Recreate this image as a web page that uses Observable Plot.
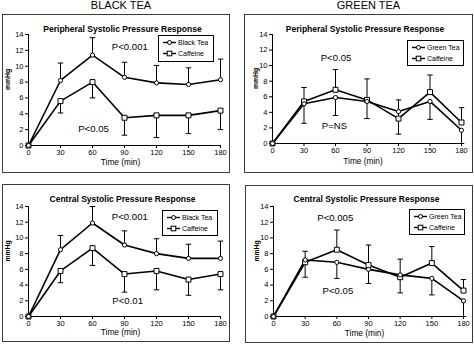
<!DOCTYPE html>
<html><head><meta charset="utf-8">
<script src="https://cdn.jsdelivr.net/npm/d3@7"></script>
<script src="https://cdn.jsdelivr.net/npm/@observablehq/plot@0.6"></script>
<style>
body{margin:0;background:#fff;font-family:"Liberation Sans",Arial,sans-serif;color:#000;}
#root{position:relative;width:474px;height:345px;overflow:hidden;background:#fff;}
.hdr{position:absolute;top:0px;font-size:11px;line-height:11px;white-space:nowrap;transform:translateX(-50%);}
.panel{position:absolute;}
.panel svg{position:absolute;left:0;top:0;}
.box{position:absolute;left:0;top:0;right:0;bottom:0;border:1px solid #3a3a3a;pointer-events:none;}
.legend{position:absolute;border:1px solid #000;background:#fff;box-sizing:border-box;}
.lrow{position:absolute;left:3px;height:11px;line-height:11px;font-size:7px;white-space:nowrap;display:flex;align-items:center;}
.lrow svg{position:static;margin-right:1px;}
</style></head>
<body><div id="root"></div>
<script>
const times = [0, 30, 60, 90, 120, 150, 180];
const yTicks = [0, 2, 4, 6, 8, 10, 12, 14];
const headers = ["BLACK TEA", "GREEN TEA"];
const titles = ["Peripheral Systolic Pressure Response", "Central Systolic Pressure Response"];
const seriesNames = [["Black Tea", "Caffeine"], ["Green Tea", "Caffeine"]];

// Peripheral, black tea study
const periphBlackTea = [0, 8.2, 11.4, 8.6, 7.9, 7.7, 8.3];
const periphBlackTeaErr = [0, 2.2, 2.2, 1.9, 2.2, 2.1, 2.6];
const periphBlackCaf = [0, 5.6, 8.0, 3.5, 3.8, 3.8, 4.4];
const periphBlackCafErr = [0, 1.5, 2.0, 2.2, 2.8, 2.3, 2.4];
// Peripheral, green tea study
const periphGreenTea = [0, 5.1, 5.9, 5.4, 4.1, 5.4, 1.7];
const periphGreenTeaErr = [0, 2.5, 2.3, 2.2, 2.9, 2.3, 1.7];
const periphGreenCaf = [0, 5.4, 6.9, 5.6, 3.2, 6.6, 2.7];
const periphGreenCafErr = [0, 1.8, 2.6, 2.7, 2.4, 2.2, 1.9];
// Central, black tea study
const centralBlackTea = [0, 8.5, 11.9, 9.1, 8.0, 7.4, 7.4];
const centralBlackTeaErr = [0, 1.8, 2.1, 1.8, 1.9, 1.8, 2.2];
const centralBlackCaf = [0, 5.8, 8.7, 5.4, 5.8, 4.7, 5.4];
const centralBlackCafErr = [0, 1.5, 2.2, 2.3, 2.4, 2.0, 2.0];
// Central, green tea study
const centralGreenTea = [0, 7.2, 6.9, 6.0, 5.3, 4.85, 2.0];
const centralGreenTeaErr = [0, 2.2, 2.05, 1.8, 2.3, 2.1, 2.0];
const centralGreenCaf = [0, 6.9, 8.5, 6.55, 5.0, 6.8, 3.3];
const centralGreenCafErr = [0, 1.4, 2.5, 2.55, 2.3, 2.1, 1.4];

// P-value annotations (data coordinates)
const pPeriphBlack = [{text: "P<0.001", x: 95, y: 12.4}, {text: "P<0.05", x: 61, y: 2.1}];
const pPeriphGreen = [{text: "P<0.05", x: 60.5, y: 11.05}, {text: "P=NS", x: 59, y: 2.3}];
const pCentralBlack = [{text: "P<0.001", x: 95, y: 12.7}, {text: "P<0.01", x: 93, y: 2.0}];
const pCentralGreen = [{text: "P<0.005", x: 58.5, y: 12.6}, {text: "P<0.05", x: 61, y: 3.2}];

const root = document.getElementById("root");
const FONT = "'Liberation Sans', Arial, sans-serif";

function header(text, cx) {
  const d = document.createElement("div");
  d.className = "hdr"; d.textContent = text; d.style.left = cx + "px";
  root.appendChild(d);
}
header(headers[0], 121);
header(headers[1], 368.5);

function swatch(kind) {
  const ns = "http://www.w3.org/2000/svg";
  const s = document.createElementNS(ns, "svg");
  s.setAttribute("width", 15); s.setAttribute("height", 9);
  const l = document.createElementNS(ns, "line");
  l.setAttribute("x1", 1); l.setAttribute("x2", 14); l.setAttribute("y1", 4.5); l.setAttribute("y2", 4.5);
  l.setAttribute("stroke", "#000"); l.setAttribute("stroke-width", 1.4);
  s.appendChild(l);
  let m;
  if (kind === 0) {
    m = document.createElementNS(ns, "circle");
    m.setAttribute("cx", 7.5); m.setAttribute("cy", 4.5); m.setAttribute("r", 2);
  } else {
    m = document.createElementNS(ns, "rect");
    m.setAttribute("x", 5.2); m.setAttribute("y", 2.2); m.setAttribute("width", 4.6); m.setAttribute("height", 4.6);
  }
  m.setAttribute("fill", "#fff"); m.setAttribute("stroke", "#000"); m.setAttribute("stroke-width", 1);
  s.appendChild(m);
  return s;
}

function legend(names, left, top, w, h) {
  const d = document.createElement("div");
  d.className = "legend";
  Object.assign(d.style, {left: left + "px", top: top + "px", width: w + "px", height: h + "px"});
  names.forEach((n, i) => {
    const r = document.createElement("div");
    r.className = "lrow";
    r.style.top = (1 + i * 11) + "px";
    r.appendChild(swatch(i));
    const sp = document.createElement("span"); sp.textContent = n;
    r.appendChild(sp);
    d.appendChild(r);
  });
  root.appendChild(d);
}

function panel(cfg) {
  const rows = times.map((t, i) => ({
    t, a: cfg.a[i], ae: cfg.ae[i], b: cfg.b[i], be: cfg.be[i]
  }));
  const errRows = rows.filter(r => r.t > 0);
  const aEnd = d => d.a + cfg.aDir * d.ae;
  const bEnd = d => d.b + cfg.bDir * d.be;
  const cap = 2.6;
  const plot = Plot.plot({
    width: cfg.W, height: cfg.H,
    marginLeft: cfg.mL, marginRight: cfg.mR, marginTop: cfg.mT, marginBottom: cfg.mB,
    x: {domain: [0, 180], axis: null},
    y: {domain: [0, 14], axis: null},
    style: {background: "transparent", fontFamily: FONT, color: "#000", overflow: "visible"},
    marks: [
      Plot.axisX({ticks: times, tickSize: 3, tickPadding: 1.5, fontSize: 7.5, label: null, tickFormat: d => String(d)}),
      Plot.axisY({ticks: yTicks, tickSize: 3, tickPadding: 2, fontSize: 7.5, label: null, tickFormat: d => String(d)}),
      Plot.ruleY([0], {stroke: "#000", strokeWidth: 1}),
      Plot.ruleX([0], {stroke: "#000", strokeWidth: 1}),
      Plot.link(errRows, {x1: "t", x2: "t", y1: "a", y2: aEnd, stroke: "#000", strokeWidth: 1}),
      Plot.link(errRows, {x1: d => d.t - cap, x2: d => d.t + cap, y1: aEnd, y2: aEnd, stroke: "#000", strokeWidth: 1}),
      Plot.link(errRows, {x1: "t", x2: "t", y1: "b", y2: bEnd, stroke: "#000", strokeWidth: 1}),
      Plot.link(errRows, {x1: d => d.t - cap, x2: d => d.t + cap, y1: bEnd, y2: bEnd, stroke: "#000", strokeWidth: 1}),
      Plot.line(rows, {x: "t", y: "b", stroke: "#000", strokeWidth: 1.6}),
      Plot.line(rows, {x: "t", y: "a", stroke: "#000", strokeWidth: 1.6}),
      Plot.dot(rows, {x: "t", y: "b", symbol: "square", r: 2.8, fill: "#fff", stroke: "#000", strokeWidth: 1}),
      Plot.dot(rows, {x: "t", y: "a", symbol: "circle", r: 2.1, fill: "#fff", stroke: "#000", strokeWidth: 1}),
      Plot.text([cfg.title], {frameAnchor: "top", dy: cfg.titleDy, dx: -2, fontWeight: "bold", fontSize: 8.5}),
      Plot.text(["mmHg"], {frameAnchor: "left", rotate: -90, dx: cfg.ylabDx, fontWeight: "bold", fontSize: 6.8}),
      Plot.text(["Time (min)"], {frameAnchor: "bottom", dy: cfg.xlabDy, dx: -4, fontSize: 8.3}),
      Plot.text(cfg.p, {x: "x", y: "y", text: "text", fontSize: 9.6})
    ]
  });
  const wrap = document.createElement("div");
  wrap.className = "panel";
  Object.assign(wrap.style, {left: cfg.left + "px", top: cfg.top + "px", width: cfg.W + "px", height: cfg.H + "px"});
  wrap.appendChild(plot);
  const box = document.createElement("div"); box.className = "box";
  wrap.appendChild(box);
  root.appendChild(wrap);
}

panel({left: 2, top: 14, W: 228, H: 159, mL: 26, mR: 10, mT: 20, mB: 28,
  a: periphBlackTea, ae: periphBlackTeaErr, aDir: 1, b: periphBlackCaf, be: periphBlackCafErr, bDir: -1,
  title: titles[0], titleDy: -9, ylabDx: -21, xlabDy: 19, p: pPeriphBlack});
panel({left: 244, top: 14, W: 229, H: 159, mL: 28, mR: 12, mT: 20, mB: 30,
  a: periphGreenTea, ae: periphGreenTeaErr, aDir: -1, b: periphGreenCaf, be: periphGreenCafErr, bDir: 1,
  title: titles[0], titleDy: -9, ylabDx: -17, xlabDy: 20.5, p: pPeriphGreen});
panel({left: 2, top: 184, W: 228, H: 158, mL: 26, mR: 10, mT: 22, mB: 26,
  a: centralBlackTea, ae: centralBlackTeaErr, aDir: 1, b: centralBlackCaf, be: centralBlackCafErr, bDir: -1,
  title: titles[1], titleDy: -11, ylabDx: -21, xlabDy: 18.5, p: pCentralBlack});
panel({left: 245, top: 185, W: 228, H: 158, mL: 28, mR: 10, mT: 21, mB: 27,
  a: centralGreenTea, ae: centralGreenTeaErr, aDir: -1, b: centralGreenCaf, be: centralGreenCafErr, bDir: 1,
  title: titles[1], titleDy: -11, ylabDx: -17, xlabDy: 19, p: pCentralGreen});

legend(seriesNames[0], 158, 35, 56, 27);
legend(seriesNames[1], 407, 40, 57, 26);
legend(seriesNames[0], 162, 210, 56, 26);
legend(seriesNames[1], 409, 209, 56, 26);
</script>
</body></html>
